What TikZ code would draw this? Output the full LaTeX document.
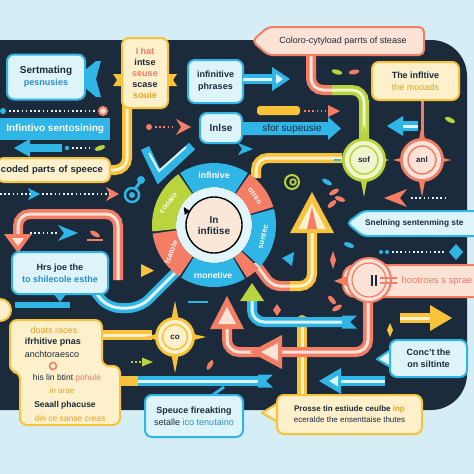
\documentclass[tikz,border=0pt]{standalone}
\usepackage{fontspec}
\setmainfont{Liberation Sans}
\definecolor{bgL}{HTML}{D5EEF5}
\definecolor{navy}{HTML}{1C2B3B}
\definecolor{cy}{HTML}{2FB5E6}
\definecolor{cyL}{HTML}{DDF4FB}
\definecolor{ye}{HTML}{F8C23A}
\definecolor{yeL}{HTML}{FDF0CB}
\definecolor{yeT}{HTML}{EBA324}
\definecolor{co}{HTML}{F47D66}
\definecolor{coL}{HTML}{FCE3D6}
\definecolor{gr}{HTML}{B9D43C}
\definecolor{grL}{HTML}{EEF5CF}
\definecolor{tx}{HTML}{1C2B3B}
\definecolor{bl}{HTML}{2A8DCB}
\definecolor{cream}{HTML}{FBE7D7}
\definecolor{ringL}{HTML}{E2F5FA}
\newcommand\fsb[2]{\fontsize{#1}{#2}\selectfont\bfseries}
\newcommand\fsr[2]{\fontsize{#1}{#2}\selectfont}
\newcommand\ringseg[3]{\fill[#3] (-#1:62) arc[start angle=-#1, end angle=-#2, radius=62] -- (-#2:38) arc[start angle=-#2, end angle=-#1, radius=38] -- cycle;}
\newcommand\leafat[4]{\fill[#1, rotate around={#4:(#2,#3)}] (#2,#3) ellipse [x radius=5.5, y radius=2.4];}
\begin{document}
\begin{tikzpicture}[x=1pt,y=-1pt,
  every node/.style={text=tx, inner sep=0pt},
  pipeC/.style={draw=co,line width=3.5pt,double=coL,double distance=3pt,rounded corners=12pt},
  pipeY/.style={draw=ye,line width=3.5pt,double=yeL,double distance=3pt,rounded corners=12pt},
  pipeB/.style={draw=cy,line width=3.5pt,double=cyL,double distance=3pt,rounded corners=12pt},
  pipeG/.style={draw=gr,line width=3.5pt,double=grL,double distance=3pt,rounded corners=12pt},
  cbox/.style={draw=cy,line width=2pt,fill=cyL,rounded corners=7pt,align=center},
  ybox/.style={draw=ye,line width=2pt,fill=yeL,rounded corners=7pt,align=center},
  dotline/.style={line width=1.6pt,dash pattern=on 1.6pt off 2.6pt},
  ringtxt/.style={text=white,font=\fsb{7.5}{9}}]
\useasboundingbox (0,0) rectangle (474,474);
\fill[bgL] (0,0) rectangle (474,474);
\fill[navy, rounded corners=36pt] (-40,40) rectangle (467,410);

% ---------- pipes ----------
\draw[pipeY] (100,170) -- (127,170) -- (127,100);
\draw[pipeC] (118,280) -- (118,214) -- (18,214) -- (18,238);
\draw[pipeB] (92,288) -- (108,308) -- (140,308) -- (178,270);
\draw[pipeY, rounded corners=0pt] (100,335) -- (152,335);
\draw[pipeB, rounded corners=0pt] (137,381) -- (262,381);
\draw[pipeY, line cap=round] (302,320) -- (302,397);
\draw[pipeC] (227,326) -- (227,352) -- (368,352) -- (368,298);
\draw[pipeB] (252,300) -- (252,322) -- (346,322);
\draw[pipeC, rounded corners=8pt] (255,263) -- (272,286) -- (292,286);
\draw[pipeY] (290,286) -- (312,286) -- (312,228);
\draw[pipeC] (311,54) -- (311,90) -- (334,90);
\draw[pipeG] (332,90) -- (364,90) -- (364,140);
\draw[pipeY] (256,178) -- (256,158) -- (342,158);
\draw[co, line width=3pt] (422,100) -- (422,140);
\draw[cy, line width=2pt] (334,160) -- (352,160);

% ---------- arrowheads ----------
\fill[co] (4,234) -- (32,234) -- (18,253) -- cycle;
\fill[coL] (12,238) -- (24,238) -- (18,246) -- cycle;
\fill[co] (227,296) -- (244,329) -- (210,329) -- cycle;
\fill[coL] (227,307) -- (236,324) -- (218,324) -- cycle;
\fill[co] (250,352) -- (282,335) -- (282,369) -- cycle;
\fill[coL] (261,352) -- (278,343) -- (278,361) -- cycle;
\fill[gr] (252,283) -- (264,301) -- (240,301) -- cycle;
\fill[cy] (342,315.5) -- (357,315.5) -- (350,322) -- (357,328.5) -- (342,328.5) -- cycle;
\fill[cy] (258,374.5) -- (273,374.5) -- (266,381) -- (273,387.5) -- (258,387.5) -- cycle;
\draw[cy, line width=3pt] (224,387) -- (210,397);
\fill[ye] (312,192) -- (334,233) -- (290,233) -- cycle;
\fill[yeL] (312,203) -- (326,229) -- (298,229) -- cycle;
\fill[co] (312,207) -- (317,229) -- (307,229) -- cycle;
\draw[pipeY, rounded corners=0pt] (400,318) -- (433,318);
\fill[ye] (430,305) -- (452,318) -- (430,331) -- cycle;
\draw[pipeB, rounded corners=0pt] (336,381) -- (385,381);
\fill[cy] (319,381) -- (341,368) -- (341,394) -- cycle;
\fill[cyL] (329,381) -- (338,375.5) -- (338,386.5) -- cycle;
\fill[ye] (118,376) rectangle (138,386);
\fill[ye] (141,264) -- (154,270.5) -- (141,277) -- cycle;
\draw[cy, line width=2.5pt] (188,302) -- (208,302);
\fill[cy] (282,258) -- (294,252) -- (292,266) -- cycle;

% ---------- central ring ----------
\begin{scope}[shift={(214,225)}]
  \fill[ringL] (0,0) circle (38);
  \ringseg{57}{123}{cy}
  \ringseg{17}{55}{co}
  \ringseg{-42}{15}{cy}
  \ringseg{-58}{-44}{co}
  \ringseg{-122}{-60}{cy}
  \ringseg{188}{236}{co}
  \ringseg{125}{186}{gr}
  \fill[cream] (0,0) circle (27);
  \draw[black, line width=1.4pt] (0,0) circle (28);
  \fill[black] (-150:28) -- ++(-6,-4) -- ++(1,8) -- cycle;
\end{scope}
\node[ringtxt, font=\fsb{9}{10}] (r1) at (214,175) {infinive};
\node[ringtxt, rotate=-54] (r2) at (255,196) {otrao};
\node[ringtxt, rotate=76] (r3) at (263,237) {suntec};
\node[ringtxt, font=\fsb{8.5}{10}] (r4) at (213,275) {rnonetive};
\node[ringtxt, rotate=68] (r5) at (171,252) {lsatole};
\node[ringtxt, rotate=52] (r6) at (168,203) {conaio};
\node[font=\fsb{10}{11}, align=center] (ctr) at (214,226) {In\\infitise};

% ---------- left column ----------
\fill[cy] (84,71) -- (96,61) -- (101,61) -- (96,79) -- (101,97) -- (96,97) -- (84,87) -- cycle;
\node[cbox, minimum width=78pt, minimum height=45pt, font=\fsb{10}{12}] (s1) at (46,77) {Sertmating\\\textcolor{bl}{\fontsize{9}{12}\selectfont pesnusies}};
\fill[cy] (3,111) circle (3);
\draw[dotline, cyL] (9,111) -- (97,111);
\draw[co, line width=2pt, fill=coL] (103,111) circle (4);
\node[fill=cy, minimum width=110pt, minimum height=22pt, anchor=west, text=white, font=\fsb{10}{12}] (b1) at (0,129) {Infintivo sentosining};
\fill[cy] (28,144) rectangle (62,152);
\fill[cy] (14,148) -- (30,139) -- (30,157) -- cycle;
\fill[cy] (67,148) circle (2.2);
\draw[dotline, cyL] (72,148) -- (93,148);
\leafat{gr}{100}{148}{20}
\fill[ye] (123,74) -- (113,74) -- (117,80) -- (113,86) -- (123,86) -- cycle;
\fill[ye] (167,74) -- (177,74) -- (173,80) -- (177,86) -- (167,86) -- cycle;
\node[ybox, minimum width=46pt, minimum height=70pt, font=\fsb{9}{11}] (tb) at (145,73) {\textcolor{co}{I hat}\\intse\\\textcolor{co}{seuse}\\scase\\\textcolor{yeT}{souie}};
\node[ybox, minimum height=24pt, text width=105pt, align=left, inner xsep=4pt, anchor=west, font=\fsb{9.5}{11}] (cp) at (-4,170) {coded parts of speece};
\draw[dotline, cyL] (0,194) -- (110,194);
\fill[cy] (28,188) -- (40,194) -- (28,200) -- (31,194) -- cycle;
\fill[co] (106,187) -- (119,194) -- (106,201) -- (110,194) -- cycle;
\draw[cy, line width=2.5pt] (132,195) circle (7);
\fill[cy] (132,195) circle (3);
\draw[cy, line width=3pt] (135,189) -- (140,182);
\fill[cy] (141,180) circle (4);
\draw[cy, line width=9pt, line join=miter] (145,148) -- (159,177) -- (192,146);
\draw[cyL, line width=2pt] (149,153) -- (159,171) -- (186,147);
% inside loop
\draw[dotline, cyL] (30,233) -- (58,233);
\fill[cy] (58,225) -- (78,233) -- (58,241) -- (64,233) -- cycle;
\leafat{co}{95}{234}{-30}
\draw[co, line width=2pt] (87,240) -- (103,240);
\node[cbox, minimum width=96pt, minimum height=42pt, font=\fsb{9}{12}] (h1) at (60,273) {Hrs joe the\\\textcolor{bl}{to shilecole esthe}};
\fill[cy] (15,302) rectangle (70,308);
\fill[cy] (53,293) -- (67,293) -- (60,302) -- cycle;
\draw[ye, line width=2pt, fill=yeL] (0,310) circle (11);

% ---------- lower-left yellow box ----------
\draw[draw=ye, line width=2pt, fill=yeL, rounded corners=7pt] (10,320) -- (102,320) -- (102,366) -- (120,366) -- (120,425) -- (20,425) -- (20,372) -- (10,372) -- cycle;
\node[font=\fsr{9}{10}, text=yeT] (ya1) at (54,330) {doats races};
\node[font=\fsb{9}{10}] (ya2) at (53,342) {ifrhitive pnas};
\node[font=\fsr{9}{10}] (ya3) at (52,354) {anchtoraesco};
\draw[co, line width=1.5pt] (53,366) circle (3.5);
\node[font=\fsr{8.5}{10}] (yb1) at (67,378) {his lin btint \textcolor{co}{pohule}};
\node[font=\fsr{8}{10}, text=yeT] (yb2) at (62,391) {in arae};
\node[font=\fsb{8.5}{10}] (yb3) at (65,405) {Seaall phacuse};
\node[font=\fsr{8.5}{10}, text=yeT] (yb4) at (70,418) {din ce sanse creas};
% yellow compass
\fill[ye] (175,301) -- (181,331) -- (206,337) -- (181,343) -- (175,373) -- (169,343) -- (144,337) -- (169,331) -- cycle;
\fill[ye] (175,337) circle (20);
\fill[yeL] (175,337) circle (17);
\draw[ye, line width=1.5pt] (175,337) circle (12.5);
\node[font=\fsb{8}{9}] (yc) at (175,337) {co};
\draw[dotline, gr] (131,362) -- (142,362);
\fill[gr] (142,357.5) -- (153,362) -- (142,366.5) -- cycle;
\leafat{co}{210}{365}{60}
\node[cbox, minimum width=98pt, minimum height=42pt, font=\fsb{9}{12}] (sp) at (194,416) {Speuce fireakting\\{\mdseries setalle \textcolor{bl}{ico tenutaino}}};

% ---------- top centre ----------
\node[cbox, minimum width=55pt, minimum height=43pt, font=\fsb{9}{12}] (ip) at (215.5,81.5) {infinitive\\phrases};
\draw[pipeB, rounded corners=0pt] (243,79) -- (276,79);
\fill[cy] (272,67) -- (290,79) -- (272,91) -- cycle;
\fill[cyL] (276,74) -- (283,79) -- (276,84) -- cycle;
\fill[cy] (238,122) -- (328,122) -- (328,117) -- (341,128.5) -- (328,140) -- (328,135) -- (238,135) -- cycle;
\node[font=\fsr{10}{12}] (sf) at (292,128.5) {sfor supeusie};
\node[cbox, minimum width=42pt, minimum height=30pt, font=\fsb{10}{12}] (il) at (221,128) {Inlse};
\fill[co] (149,127) circle (3);
\draw[dotline, co] (155,127) -- (175,127);
\fill[co] (176,119) -- (191,127) -- (176,135) -- (181,127) -- cycle;
\fill[ye, rounded corners=3pt] (257,106) rectangle (300,115);
\draw[dotline, co] (304,111) -- (326,111);
\fill[co] (328,105) -- (340,111) -- (328,117) -- cycle;
\fill[cy] (253,149) -- (238,143) -- (242,149) -- (238,155) -- cycle;
\draw[gr, line width=2pt] (292,182) circle (7);
\draw[gr, line width=1.8pt] (293,182) circle (2.8);

% ---------- top right ----------
\draw[co, line width=2pt, fill=coL, rounded corners=5pt] (252,41) -- (268,27) -- (424,27) -- (424,55) -- (268,55) -- cycle;
\node[font=\fsr{9}{10}] (tp) at (343,41) {Coloro-cytyload parrts of stease};
\leafat{gr}{337}{72}{-15}
\leafat{co}{354}{72}{10}
\node[ybox, minimum width=87pt, minimum height=38pt, font=\fsb{9}{12}] (ti) at (415.5,81) {The infltive\\\textcolor{yeT}{\mdseries the mooads}};
% green compass
\fill[gr] (364,124) -- (370,154) -- (389,160) -- (370,166) -- (364,197) -- (358,166) -- (339,160) -- (358,154) -- cycle;
\fill[gr] (364,160) circle (22);
\fill[grL] (364,160) circle (19);
\draw[gr, line width=1.5pt] (364,160) circle (14);
\node[font=\fsb{8}{9}] (gc) at (364,160) {sof};
% coral compass
\fill[co] (422,124) -- (428,154) -- (451,160) -- (428,166) -- (422,197) -- (416,166) -- (393,160) -- (416,154) -- cycle;
\fill[co] (422,160) circle (22);
\fill[coL] (422,160) circle (19);
\draw[co, line width=1.5pt] (422,160) circle (14);
\node[font=\fsb{8}{9}] (cc) at (422,160) {anl};
\draw[pipeB, rounded corners=0pt] (398,126) -- (418,126);
\fill[cy] (387,126) -- (403,116) -- (403,136) -- cycle;
\leafat{gr}{450}{120}{-25}
\leafat{cy}{327}{182}{-30}
\leafat{co}{334}{192}{30}
\leafat{co}{340}{199}{-20}
\leafat{co}{332}{204}{40}
\fill[co] (384,198) -- (407,189) -- (400,198) -- (407,207) -- cycle;
\draw[dotline, cyL] (411,198) -- (446,198);
\draw[cy, line width=2pt, fill=cyL, rounded corners=4pt] (347,223) -- (363,211) -- (490,211) -- (490,236) -- (363,236) -- cycle;
\node[font=\fsb{8.3}{10}, anchor=west] (sn) at (365,223.5) {Snelning sentenming ste};
\fill[cy] (381,252) circle (2); \fill[cy] (387,252) circle (2);
\draw[dotline, cyL] (392,252) -- (446,252);
\fill[cy] (456,244) -- (463,252) -- (456,260) -- (449,252) -- cycle;
\leafat{cy}{349}{245}{-20}
\fill[co] (333,251) -- (336,260) -- (333,269) -- (330,260) -- cycle;
\leafat{co}{332}{300}{-50}
\leafat{co}{337}{308}{30}
\fill[co] (277,304) -- (281,310) -- (277,316) -- (273,310) -- cycle;
\fill[ye] (390,323) -- (393,330) -- (390,337) -- (387,330) -- cycle;
% coral pill
\draw[co, line width=2pt, fill=coL, rounded corners=12pt] (343,265) rectangle (490,297);
\fill[co] (334,281) -- (352,274) -- (352,288) -- cycle;
\draw[co, line width=2pt, fill=coL] (369,280) circle (22);
\draw[co, line width=1.2pt] (369,280) circle (17);
\fill[tx] (371,275) rectangle (373,286);
\fill[tx] (375,275) rectangle (377,286);
\draw[co, line width=1.5pt] (380,278) -- (397,278);
\draw[co, line width=1.5pt] (380,283) -- (397,283);
\node[font=\fsr{9.5}{11}, text=co] (hs) at (437,281) {hootroes s sprae};
% bottom right boxes
\draw[cy, line width=2pt, fill=cyL, line join=round] (392,349) -- (377,359) -- (392,368);
\node[cbox, minimum width=77pt, minimum height=37pt, font=\fsb{9}{12}] (ct) at (428.5,358.5) {Conc’t the\\on siltinte};
\draw[ye, line width=2pt, fill=yeL, line join=round] (278,403) -- (262,413) -- (278,422);
\node[ybox, minimum width=145pt, minimum height=39pt, font=\fsb{8}{11}] (pr) at (349.5,414.5) {Prosse tin estiude ceulbe \textcolor{yeT}{inp}\\{\mdseries eceralde the ensenttaise thutes}};
\end{tikzpicture}
\end{document}
